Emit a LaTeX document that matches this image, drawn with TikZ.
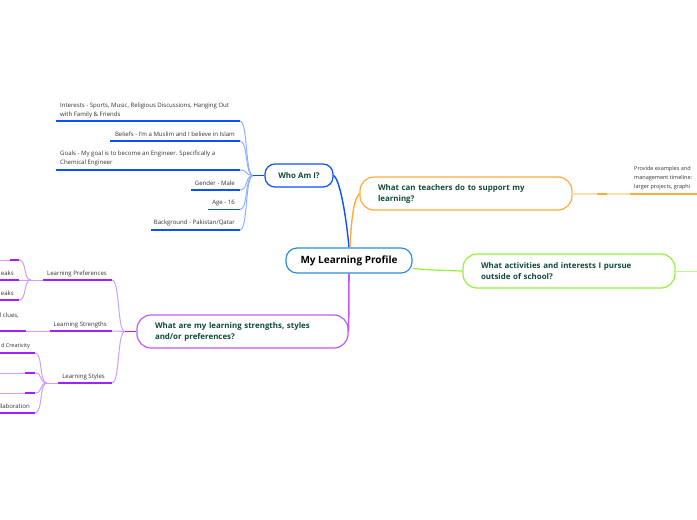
\documentclass[tikz,border=0pt]{standalone}
\usepackage{fontspec}
\setmainfont{Open Sans}
\usepackage{xcolor}
\definecolor{titlegreen}{HTML}{0F4A3C}
\definecolor{leafgray}{HTML}{333333}
\definecolor{bluedark}{HTML}{0A50FF}
\definecolor{bluelight}{HTML}{8FB0FF}
\definecolor{profileblue}{HTML}{2A8FDB}
\definecolor{orangedark}{HTML}{FFAA3C}
\definecolor{orangelight}{HTML}{FFDFB0}
\definecolor{greendark}{HTML}{96F03C}
\definecolor{greenlight}{HTML}{BEF888}
\definecolor{purpledark}{HTML}{A020FF}
\definecolor{purplelight}{HTML}{D09CFF}
\definecolor{purplemid}{HTML}{BC5CFF}
\tikzset{
  topic/.style={draw, fill=white, rounded corners=14pt, line width=1.2pt, font=\fontsize{7.9}{11}\selectfont\bfseries, text=titlegreen, align=left, inner sep=0pt},
  leaf/.style={font=\fontsize{6.05}{8.7}\selectfont, text=leafgray, align=left, inner sep=0pt},
  bar/.style={line width=1.4pt},
  link/.style={line width=1pt},
  sbend/.style={out=0, in=180, distance=8pt}
}
\begin{document}
\begin{tikzpicture}[x=1pt,y=-1pt]
    \useasboundingbox (0,0) rectangle (697,520);
    \clip (0,0) rectangle (697,520);

    \node[topic, draw=profileblue, text=black, font=\fontsize{10}{12}\selectfont\bfseries, rounded corners=11pt, minimum width=126pt, minimum height=25pt] (profile) at (349,260.5) {My Learning Profile};

    \node[topic, draw=bluedark, rounded corners=10pt, minimum width=68pt, minimum height=23pt] (who) at (299,175.5) {Who Am I?};
    \node[topic, draw=orangedark, minimum width=212pt, minimum height=33pt, text width=176pt] (teachers) at (466,193.5) {What can teachers do to support my\\learning?};
    \node[topic, draw=greendark, minimum width=212pt, minimum height=34pt, text width=176pt] (activities) at (569,271) {What activities and interests I pursue\\outside of school?};
    \node[topic, draw=purplemid, minimum width=211pt, minimum height=33pt, text width=175pt] (strengths) at (242.5,331.5) {What are my learning strengths, styles\\and/or preferences?};

    % who am i
    \coordinate (whohub) at (253,175.5);
    \coordinate (interestsA) at (56,121);
    \coordinate (interestsB) at (240,121);
    \coordinate (beliefsA) at (110,141);
    \coordinate (beliefsB) at (240,141);
    \coordinate (goalsA) at (56,170);
    \coordinate (goalsB) at (240,170);
    \coordinate (genderA) at (191,190);
    \coordinate (genderB) at (240,190);
    \coordinate (ageA) at (208,209.5);
    \coordinate (ageB) at (240,209.5);
    \coordinate (backgroundA) at (151,230);
    \coordinate (backgroundB) at (240,230);

    \node[leaf, anchor=north west] (interests) at (60,102.5) {Interests - Sports, Music, Religious Discussions, Hanging Out\\with Family \& Friends};
    \node[leaf, anchor=east] (beliefs) at (235,134.5) {Beliefs - I'm a Muslim and I believe in Islam};
    \node[leaf, anchor=north west] (goals) at (60,151) {Goals - My goal is to become an Engineer. Specifically a\\Chemical Engineer};
    \node[leaf, anchor=east] (gender) at (235,183.5) {Gender - Male};
    \node[leaf, anchor=east] (age) at (235,203.5) {Age - 16};
    \node[leaf, anchor=east] (background) at (235,223) {Background - Pakistan/Qatar};

    \draw[bluedark, bar] (interestsA) -- (interestsB);
    \draw[bluedark, bar] (beliefsA) -- (beliefsB);
    \draw[bluedark, bar] (goalsA) -- (goalsB);
    \draw[bluedark, bar] (genderA) -- (genderB);
    \draw[bluedark, bar] (ageA) -- (ageB);
    \draw[bluedark, bar] (backgroundA) -- (backgroundB);

    \draw[bluelight, link] (interestsB) to[sbend] (whohub);
    \draw[bluelight, link] (beliefsB) to[sbend] (whohub);
    \draw[bluelight, link] (goalsB) to[sbend] (whohub);
    \draw[bluelight, link] (genderB) to[sbend] (whohub);
    \draw[bluelight, link] (ageB) to[sbend] (whohub);
    \draw[bluelight, link] (backgroundB) to[sbend] (whohub);
    \draw[bluedark, link] (whohub) -- (who);

    % learning strengths
    \coordinate (rootpurple) at (125,331.5);
    \coordinate (prefA) at (43,280);
    \coordinate (prefB) at (112,280);
    \coordinate (strA) at (50,331);
    \coordinate (strB) at (112,331);
    \coordinate (styA) at (58,383);
    \coordinate (styB) at (112,383);
    \coordinate (prefhub) at (31,280);
    \coordinate (styhub) at (47,383);
    \coordinate (strstart) at (0,331);
    \coordinate (strdark) at (26,331);

    \node[leaf, anchor=east] (pref) at (107,273.5) {Learning Preferences};
    \node[leaf, anchor=east] (str) at (107,324.5) {Learning Strengths};
    \node[leaf, anchor=east] (sty) at (105,376.5) {Learning Styles};

    \draw[purpledark, bar] (prefA) -- (prefB);
    \draw[purpledark, bar] (strA) -- (strB);
    \draw[purpledark, bar] (styA) -- (styB);
    \draw[purplelight, link] (prefhub) -- (prefA);
    \draw[purplelight, link] (strdark) -- (strA);
    \draw[purplelight, link] (styhub) -- (styA);
    \draw[purpledark, bar] (strstart) -- (strdark);

    \draw[purplelight, link] (prefB) to[sbend] (rootpurple);
    \draw[purplelight, link] (strB) -- (rootpurple);
    \draw[purplelight, link] (styB) to[sbend] (rootpurple);
    \draw[purpledark, link] (rootpurple) -- (strengths);

    \node[leaf, anchor=east] (prefa) at (14,273.5) {eaks};
    \node[leaf, anchor=east] (prefb) at (14,293.5) {eaks};
    \node[leaf, anchor=east] (strc) at (19,315.5) {l clues,};
    \node[leaf, anchor=east, font=\fontsize{5.5}{8}\selectfont] (stya) at (30,346.5) {d Creativity};
    \node[leaf, anchor=east] (styd) at (30,406.5) {llaboration};

    \coordinate (prefaA) at (10,260);
    \coordinate (prefaB) at (19,260);
    \coordinate (prefbA) at (0,280);
    \coordinate (prefbB) at (19,280);
    \coordinate (prefcA) at (0,300);
    \coordinate (prefcB) at (19,300);
    \coordinate (styaA) at (0,353);
    \coordinate (styaB) at (35,353);
    \coordinate (stybA) at (25,373);
    \coordinate (stybB) at (35,373);
    \coordinate (stycA) at (25,393);
    \coordinate (stycB) at (35,393);
    \coordinate (stydA) at (0,413);
    \coordinate (stydB) at (35,413);
    \coordinate (prefaS) at (0,260);
    \coordinate (stybS) at (0,373);
    \coordinate (stycS) at (0,393);

    \draw[purplelight, link] (prefaS) -- (prefaA);
    \draw[purplelight, link] (stybS) -- (stybA);
    \draw[purplelight, link] (stycS) -- (stycA);
    \draw[purpledark, bar] (prefaA) -- (prefaB);
    \draw[purpledark, bar] (prefbA) -- (prefbB);
    \draw[purpledark, bar] (prefcA) -- (prefcB);
    \draw[purpledark, bar] (styaA) -- (styaB);
    \draw[purpledark, bar] (stybA) -- (stybB);
    \draw[purpledark, bar] (stycA) -- (stycB);
    \draw[purpledark, bar] (stydA) -- (stydB);

    \draw[purplelight, link] (prefaB) to[sbend] (prefhub);
    \draw[purplelight, link] (prefbB) -- (prefhub);
    \draw[purplelight, link] (prefcB) to[sbend] (prefhub);
    \draw[purplelight, link] (styaB) to[sbend] (styhub);
    \draw[purplelight, link] (stybB) to[sbend] (styhub);
    \draw[purplelight, link] (stycB) to[sbend] (styhub);
    \draw[purplelight, link] (stydB) to[sbend] (styhub);

    % right side
    \coordinate (teachA) at (597,194);
    \coordinate (teachB) at (607,194);
    \coordinate (teachC) at (630,194);
    \coordinate (teachD) at (697,194);
    \coordinate (teachE) at (572,194);
    \coordinate (actE) at (675,271.5);
    \coordinate (actD) at (697,271.5);

    \node[leaf, anchor=north west, font=\fontsize{5.5}{8.7}\selectfont] (examples) at (634,166.5) {Provide examples and\\management timeline:\\larger projects, graphi};

    \draw[orangelight, bar] (teachE) -- (teachA);
    \draw[orangedark, line width=1.8pt] (teachA) -- (teachB);
    \draw[orangelight, bar] (teachB) -- (teachC);
    \draw[orangedark, line width=1.8pt] (teachC) -- (teachD);
    \draw[greenlight, bar] (actE) -- (actD);

    % main branches
    \draw[bluedark, line width=1.4pt] (who.east) .. controls (340,180) and (346,215) .. (profile.north);
    \draw[orangedark, line width=1.4pt] (teachers.west) .. controls (353,200) and (351,225) .. ([xshift=1pt]profile.north);
    \draw[greendark, line width=1.2pt] ([yshift=-8pt]profile.east) .. controls (430,270) .. (activities.west);
    \draw[purplemid, line width=1.6pt] (profile.south) -- (strengths.east);
\end{tikzpicture}
\end{document}
